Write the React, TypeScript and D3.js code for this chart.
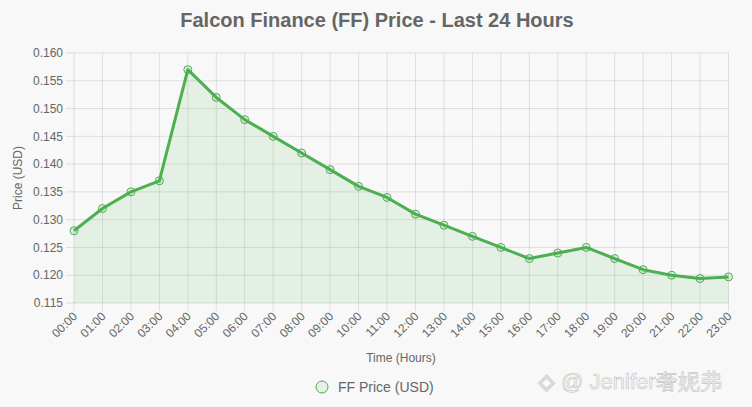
import React from "react";
import * as d3 from "d3";

const hours = ["00:00","01:00","02:00","03:00","04:00","05:00","06:00","07:00","08:00","09:00","10:00","11:00","12:00","13:00","14:00","15:00","16:00","17:00","18:00","19:00","20:00","21:00","22:00","23:00"];
const prices = [0.128,0.132,0.135,0.137,0.157,0.152,0.148,0.145,0.142,0.139,0.136,0.134,0.131,0.129,0.127,0.125,0.123,0.124,0.125,0.123,0.121,0.120,0.1194,0.1197];
const yTicks = [0.115,0.12,0.125,0.13,0.135,0.14,0.145,0.15,0.155,0.16];

const W = 752, H = 407;
const left = 74, right = 728.5, top = 53, bottom = 303;
const green = "#4caf50";
const font = "'Liberation Sans', Arial, Helvetica, sans-serif";

export default function App() {
  const x = d3.scalePoint<string>().domain(hours).range([left, right]);
  const y = d3.scaleLinear().domain([0.115, 0.16]).range([bottom, top]);
  const line = d3.line<number>().x((_, i) => x(hours[i])!).y(d => y(d));
  const area = d3.area<number>().x((_, i) => x(hours[i])!).y0(bottom).y1(d => y(d));
  return (
    <svg width={W} height={H} style={{ position: "absolute", left: 0, top: 0, background: "#f7f8f7" }}>
      <rect x={0} y={0} width={W} height={H} fill="#f7f8f7" />
      <text x={377} y={27} textAnchor="middle" fontFamily={font} fontWeight="bold" fontSize={20} fill="#666">
        Falcon Finance (FF) Price - Last 24 Hours
      </text>
      {yTicks.map(t => (
        <g key={t}>
          <line x1={left - 8} x2={right} y1={y(t)} y2={y(t)} stroke="rgba(0,0,0,0.1)" strokeWidth={1} />
          <text x={left - 11} y={y(t)} dy="0.35em" textAnchor="end" fontFamily={font} fontSize={12} fill="#666">
            {d3.format(".3f")(t)}
          </text>
        </g>
      ))}
      {hours.map(h => (
        <g key={h}>
          <line x1={x(h)} x2={x(h)} y1={top} y2={bottom + 8} stroke="rgba(0,0,0,0.1)" strokeWidth={1} />
          <text transform={`translate(${x(h)! + 4},${bottom + 14}) rotate(-45)`} textAnchor="end" fontFamily={font} fontSize={12} fill="#666">
            {h}
          </text>
        </g>
      ))}
      <path d={area(prices)!} fill="rgba(76,175,80,0.1)" />
      <path d={line(prices)!} fill="none" stroke={green} strokeWidth={3} strokeLinejoin="round" />
      {prices.map((p, i) => (
        <circle key={i} cx={x(hours[i])} cy={y(p)} r={4} fill="rgba(76,175,80,0.12)" stroke={green} strokeWidth={1} />
      ))}
      <text transform={`translate(22,${(top + bottom) / 2}) rotate(-90)`} textAnchor="middle" fontFamily={font} fontSize={12} fill="#666">
        Price (USD)
      </text>
      <text x={401} y={362} textAnchor="middle" fontFamily={font} fontSize={12} fill="#666">
        Time (Hours)
      </text>
      <circle cx={322} cy={387} r={6} fill="rgba(76,175,80,0.1)" stroke={green} strokeWidth={1} />
      <text x={338} y={387} dy="0.35em" fontFamily={font} fontSize={14} fill="#666">
        FF Price (USD)
      </text>
      <text x={538} y={381} dy="0.35em" fontFamily={font} fontSize={22} fill="#fbfbfb" stroke="#c8c8c8" strokeWidth={0.7}>
        ◈ @ Jenifer奢妮弗
      </text>
    </svg>
  );
}
